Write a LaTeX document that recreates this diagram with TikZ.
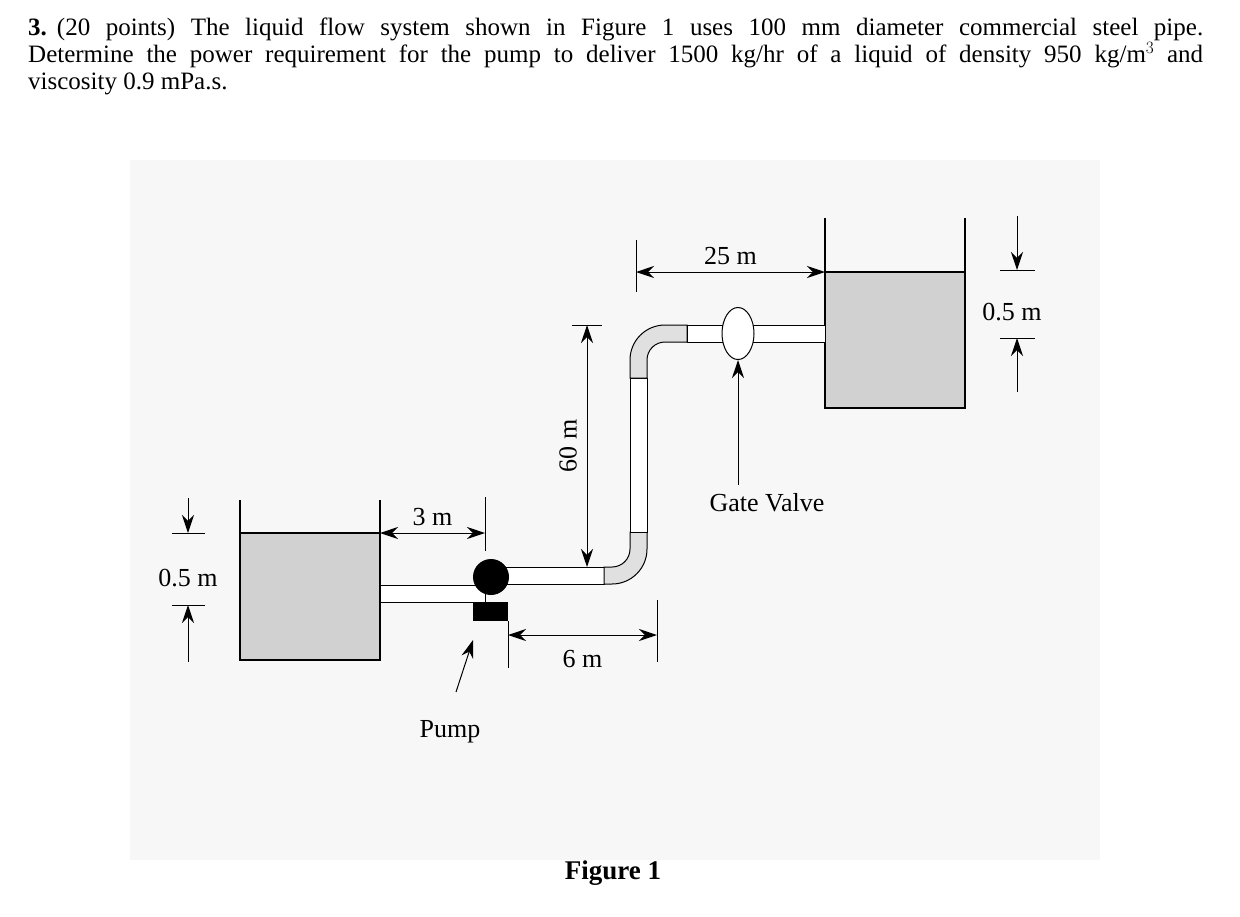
\documentclass[tikz,border=0pt]{standalone}
\usepackage{fontspec}
\setmainfont{Liberation Serif}
\usetikzlibrary{arrows.meta,positioning,shapes.geometric}
\tikzset{
  liquid/.style={draw,line width=1.2pt,fill=black!18},
  pipe/.style={draw,line width=1pt,fill=white},
  elbow/.style={draw,line width=1pt,fill=black!12},
  dim/.style={line width=1pt,{Stealth[length=18pt,width=12pt]}-{Stealth[length=18pt,width=12pt]}},
  lead/.style={line width=1pt,-{Stealth[length=18pt,width=12pt]}},
  tick/.style={line width=1pt},
  lab/.style={font=\fontsize{26}{28}\selectfont,inner sep=1pt}
}
\begin{document}
\begin{tikzpicture}[x=1pt,y=-1pt]
    \useasboundingbox (0,0) rectangle (1240,916);
    \fill[black!3] (130,160) rectangle (1100,860);

    % problem text
    \node (txt) [anchor=north west,text width=1175pt,align=justify,inner sep=0pt,
      font=\fontsize{25}{27}\selectfont] at (28,18)
      {\textbf{3.}\hspace{0.4em}(20 points) The liquid flow system shown in Figure 1 uses 100 mm diameter commercial steel pipe.\linebreak
      Determine the power requirement for the pump to deliver 1500 kg/hr of a liquid of density 950 kg/m$^3$ and\linebreak
      viscosity 0.9 mPa.s.\par};

    % tanks
    \path[liquid] (240,533) rectangle (380,660);
    \draw[line width=1.2pt] (240,500) -- (240,533) (380,500) -- (380,533);
    \path[liquid] (825,272) rectangle (965,408);
    \draw[line width=1.2pt] (825,218) -- (825,272) (965,218) -- (965,272);

    % suction pipe and pump
    \path[pipe] (380,585) rectangle (485,602);
    \path[pipe] (495,567) rectangle (604,584);
    \path[elbow] (604,567) -- (612,567) arc (90:0:18) -- (630,532) -- (647,532) -- (647,549)
      arc (0:90:35) -- (604,584) -- cycle;
    \path[pipe] (630,378) rectangle (647,532);
    \path[elbow] (630,378) -- (630,360) arc (180:270:35) -- (687,325) -- (687,342) -- (665,342)
      arc (270:180:18) -- (647,378) -- cycle;
    \path[pipe] (687,325) rectangle (825,342);
    \node (valve) [draw,line width=1pt,fill=white,ellipse,minimum width=32pt,minimum height=52pt,
      inner sep=0pt] at (738,333.5) {};
    \fill (473,602) rectangle (508,621);
    \node (pump) [circle,fill,minimum size=36pt,inner sep=0pt] at (491,577) {};

    % dimension ticks
    \draw[tick] (636,240) -- (636,292) (572,325) -- (602,325) (485,497) -- (485,551)
      (508,621) -- (508,668) (657,600) -- (657,662)
      (172,533) -- (205,533) (172,605) -- (205,605)
      (1000,270) -- (1035,270) (1000,338) -- (1035,338);

    % dimensions
    \coordinate (a25) at (636,272);
    \coordinate (b25) at (825,272);
    \draw[dim] (a25) -- node[lab,above=6pt] {25 m} (b25);
    \coordinate (a60) at (587,325);
    \coordinate (b60) at (587,567);
    \draw[dim] (a60) -- (b60);
    \node (l60) [lab,rotate=90] at (568,446) {60 m};
    \coordinate (a3) at (380,533);
    \coordinate (b3) at (485,533);
    \draw[dim] (a3) -- node[lab,above=6pt] {3 m} (b3);
    \coordinate (a6) at (508,635);
    \coordinate (b6) at (657,635);
    \draw[dim] (a6) -- node[lab,below=14pt] {6 m} (b6);

    \coordinate (l1) at (188,498);
    \coordinate (l2) at (188,533);
    \coordinate (l3) at (188,662);
    \coordinate (l4) at (188,605);
    \draw[lead] (l1) -- (l2);
    \draw[lead] (l3) -- (l4);
    \node (hl) [lab] at (188,578) {0.5 m};
    \coordinate (r1) at (1017,216);
    \coordinate (r2) at (1017,270);
    \coordinate (r3) at (1017,392);
    \coordinate (r4) at (1017,338);
    \draw[lead] (r1) -- (r2);
    \draw[lead] (r3) -- (r4);
    \node (hr) [lab] at (1012,312) {0.5 m};

    % labels
    \node (plab) [lab] at (450,732) {Pump};
    \coordinate (ptip) at (473,640);
    \coordinate (ptail) at (456,692);
    \draw[lead] (ptail) -- (ptip);
    \node (vlab) [lab] at (767,503) {Gate Valve};
    \coordinate (vtail) at (738,485);
    \draw[lead] (vtail) -- (valve.south);
    \node (fig) [font=\fontsize{27}{29}\selectfont\bfseries] at (613,873) {Figure 1};
\end{tikzpicture}
\end{document}
